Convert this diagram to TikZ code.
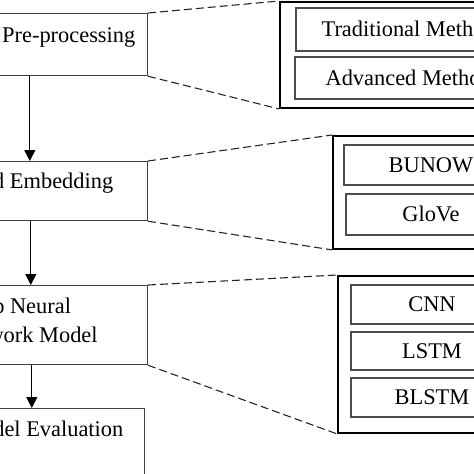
\documentclass[tikz,border=0pt]{standalone}
\usepackage{fontspec}
\setmainfont{Liberation Serif}
\usetikzlibrary{arrows.meta,calc,positioning}
\tikzset{
  stagebox/.style={draw=black!75, line width=1.2pt, anchor=north east, inner sep=0pt},
  stagetext/.style={anchor=base west, inner sep=0pt},
  groupbox/.style={draw=black, line width=1.9pt, anchor=north west, inner sep=0pt},
  methodbox/.style={draw=black!70, line width=1.2pt, inner sep=0pt, text height=14.5pt, text depth=0pt},
  flow/.style={draw=black, line width=1.1pt, -{Triangle[length=11pt,width=11pt]}},
  zoomline/.style={draw=black!85, line width=1.1pt, dash pattern=on 8pt off 4pt}
}
\begin{document}
\begin{tikzpicture}[x=1pt,y=-1pt,font=\fontsize{22.4}{29}\selectfont]
\clip (0,0) rectangle (474,474);

% stages
\node [stagebox, minimum width=208pt, minimum height=62pt] (prep) at (148,13) {};
\node [stagetext] (preptxt) at (2,42) {Pre-processing};

\node [stagebox, minimum width=208pt, minimum height=59pt] (emb) at (148,161) {};
\node [stagetext] (embtxt) at (-45,188) {Word Embedding};

\node [stagebox, minimum width=208pt, minimum height=79pt] (dnn) at (148,285) {};
\node [stagetext] (dnntxt) at (-43,313) {Deep Neural};
\node [stagetext] (dnntxtb) at (-45,342) {Network Model};

\node [stagebox, minimum width=205pt, minimum height=80pt] (eval) at (145,408) {};
\node [stagetext] (evaltxt) at (-38,436) {Model Evaluation};

\draw [flow] ($(prep.south west)+(91,0)$) -- ($(emb.north west)+(91,0)$);
\draw [flow] ($(emb.south west)+(92,0)$) -- ($(dnn.north west)+(92,0)$);
\draw [flow] ($(dnn.south west)+(93,0)$) -- ($(eval.north west)+(93,0)$);

% methods of each stage
\node [groupbox, minimum width=266pt, minimum height=106pt] (prepgrp) at (279,1) {};
\node [methodbox, minimum width=234pt, minimum height=43pt] (trad) at (413,29.5) {Traditional Methods};
\node [methodbox, minimum width=236pt, minimum height=42pt] (adv) at (413,78) {Advanced Methods};

\node [groupbox, minimum width=200pt, minimum height=113pt] (embgrp) at (332,135) {};
\node [methodbox, minimum width=174pt, minimum height=40pt] (bunow) at (431,165) {BUNOW};
\node [methodbox, minimum width=170pt, minimum height=41pt] (glove) at (431,214.5) {GloVe};

\node [groupbox, minimum width=200pt, minimum height=157pt] (dnngrp) at (337,275) {};
\node [methodbox, minimum width=162pt, minimum height=39pt] (cnn) at (432,304.5) {CNN};
\node [methodbox, minimum width=162pt, minimum height=38pt] (lstm) at (432,351) {LSTM};
\node [methodbox, minimum width=162pt, minimum height=39pt] (blstm) at (432,397.5) {BLSTM};

\draw [zoomline] (prep.north east) -- (prepgrp.north west);
\draw [zoomline] (prep.south east) -- (prepgrp.south west);
\draw [zoomline] (emb.north east) -- (embgrp.north west);
\draw [zoomline] (emb.south east) -- (embgrp.south west);
\draw [zoomline] (dnn.north east) -- (dnngrp.north west);
\draw [zoomline] (dnn.south east) -- (dnngrp.south west);
\end{tikzpicture}
\end{document}
